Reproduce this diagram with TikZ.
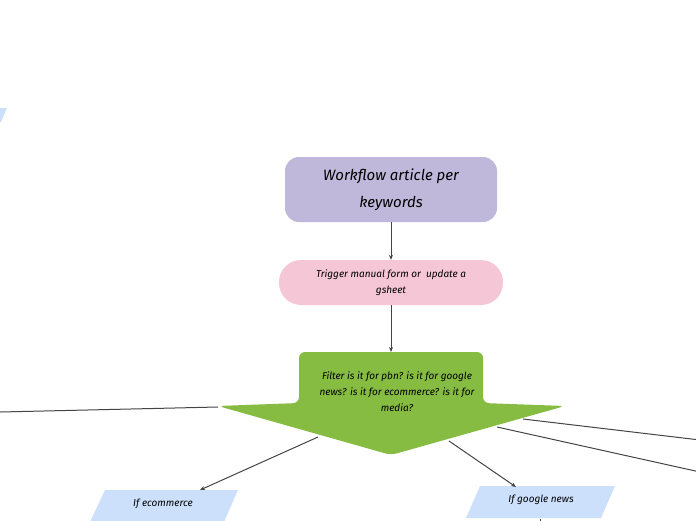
\documentclass[tikz,border=0pt]{standalone}
\usepackage{fontspec}
\setmainfont{Fira Sans}
\usetikzlibrary{arrows.meta}
\definecolor{lav}{HTML}{BFB8DA}
\definecolor{pinkc}{HTML}{F5C6D6}
\definecolor{bluec}{HTML}{CCE0FB}
\definecolor{greenc}{HTML}{86BC42}
\definecolor{linec}{HTML}{444444}
\tikzset{conn/.style={draw=linec,line width=1pt,-{Stealth[length=5pt,width=4pt]}},
plain/.style={draw=linec,line width=1pt},
txt/.style={font=\itshape\fontsize{10}{16}\selectfont,align=center,text=black}}
\begin{document}
\begin{tikzpicture}[x=1pt,y=-1pt]
\useasboundingbox (0,0) rectangle (696,520);
\clip (0,0) rectangle (696,520);
\fill[bluec] (0,108) -- (7,108) -- (1,122) -- (0,122) -- cycle;
\node[fill=lav,rounded corners=14pt,minimum width=212pt,minimum height=65pt,txt,font=\itshape\fontsize{15}{27}\selectfont] (title) at (391,189.5) {Workflow article per\\ keywords};
\node[fill=pinkc,rounded corners=22pt,minimum width=224pt,minimum height=45pt,txt] (trig) at (391,282.5) {Trigger manual form or\ \ update a\\ gsheet};
\fill[greenc,rounded corners=6pt] (299,352) -- (483,352) -- (483,403) -- (565,406) -- (391,455) -- (218,406) -- (299,403) -- cycle;
\node[txt] (filt) at (397,392) {Filter is it for pbn? is it for google\\ news? is it for ecommerce? is it for\\ media?};
\coordinate (fa) at (391,352);
\draw[conn] (title.south) -- (trig.north);
\draw[conn] (trig.south) -- (fa);
\fill[bluec] (105,490) -- (238,490) -- (224,522) -- (90,522) -- cycle;
\node[txt] (ecom) at (163,504) {If ecommerce};
\fill[bluec] (480,486) -- (615,486) -- (601,518) -- (466,518) -- cycle;
\node[txt] (gnews) at (541,500) {If google news};
\coordinate (e1) at (318,437); \coordinate (e2) at (200,490);
\coordinate (g1) at (449,441); \coordinate (g2) at (516,487);
\draw[conn] (e1) -- (e2);
\draw[conn] (g1) -- (g2);
\coordinate (l1) at (218,407); \coordinate (l2) at (0,412);
\coordinate (r1) at (523,419); \coordinate (r2) at (700,440);
\coordinate (s1) at (497,427); \coordinate (s2) at (700,472);
\draw[plain] (l1) -- (l2);
\draw[plain] (r1) -- (r2);
\draw[plain] (s1) -- (s2);
\coordinate (b1) at (540,519); \coordinate (b2) at (540,522);
\draw[plain] (b1) -- (b2);
\end{tikzpicture}
\end{document}
